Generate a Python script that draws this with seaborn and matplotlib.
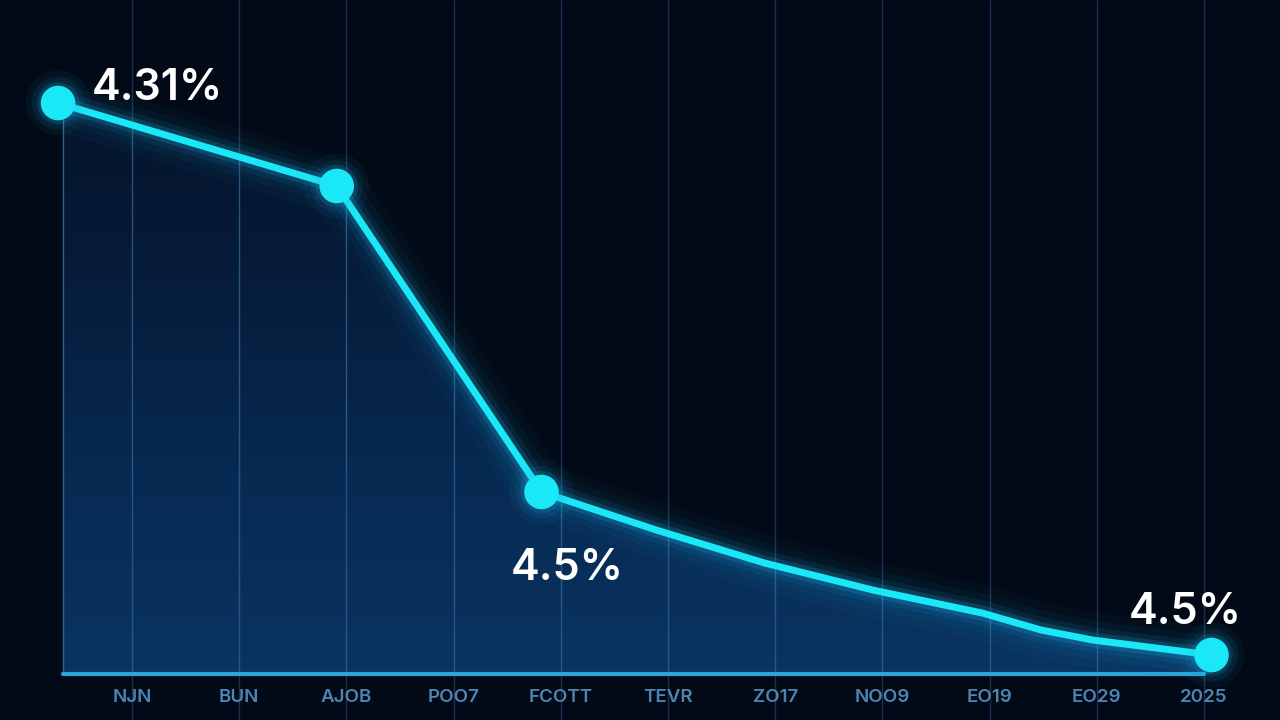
import numpy as np
import pandas as pd
import seaborn as sns
import matplotlib.pyplot as plt
from matplotlib.colors import LinearSegmentedColormap

# x position in tick units (0 = first tick), value = height of the line
x_pos = [-0.69, 1.91, 3.82, 4.89, 5.90, 6.91, 7.93, 8.48, 8.96, 10.07]
rate = [5.71, 4.88, 1.82, 1.44, 1.11, 0.84, 0.61, 0.44, 0.34, 0.19]
marker_idx = [0, 1, 2, 9]
tick_labels = ["NJN", "BUN", "AJOB", "POO7", "FCOTT", "TEVR",
               "ZO17", "NOO9", "EO19", "EO29", "2025"]
point_labels = ["4.31%", "4.5%", "4.5%"]
label_idx = [0, 2, 9]

bg = "#030a17"
cyan = "#1be8f6"

sns.set_theme(style="dark")
plt.rcParams['font.family'] = ['Inter', 'DejaVu Sans']

df = pd.DataFrame({"x": x_pos, "rate": rate})

fig = plt.figure(figsize=(12.8, 7.2), dpi=100, facecolor=bg)
ax = fig.add_axes([0, 0, 1, 1])
ax.set_facecolor(bg)
# pixel mapping: x px = 132 + 107.2*i ; y px = 674 - 100*v
ax.set_xlim(-132 / 107.2, (1280 - 132) / 107.2)
ax.set_ylim(-0.46, 6.74)

# gradient fill below the line
xs = np.array(x_pos)
ys = np.array(rate)
poly = ax.fill_between(xs, ys, 0, color="none", lw=0)
grad = LinearSegmentedColormap.from_list("g", ["#0a3461", "#072a52", "#061c3a", "#051227"])
img = ax.imshow(np.linspace(0, 1, 256).reshape(-1, 1), cmap=grad, aspect="auto",
                extent=[xs[0] + 0.05, xs[-1], 0, 6.0], origin="lower", zorder=1)
img.set_clip_path(poly.get_paths()[0], transform=ax.transData)

# vertical grid lines
for i in range(len(tick_labels)):
    ax.axvline(i, color="#1b3152", lw=1, zorder=0.5)
    top = np.interp(i, xs, ys)
    ax.plot([i, i], [0, top], color="#2f6390", lw=1, alpha=0.8, zorder=2)
ax.plot([xs[0] + 0.05, xs[0] + 0.05], [0, ys[0]], color="#2f6390", lw=1, zorder=2)

# baseline
ax.plot([xs[0] + 0.05, 10.0], [0, 0], color="#2aa6d8", lw=3, zorder=3)

# glow layers
for lw, a in [(40, 0.03), (28, 0.05), (18, 0.09), (11, 0.18)]:
    sns.lineplot(data=df, x="x", y="rate", ax=ax, color="#1bb8f0", lw=lw,
                 alpha=a, sort=False, zorder=4, solid_capstyle="round")
sns.lineplot(data=df, x="x", y="rate", ax=ax, color=cyan, lw=5,
             sort=False, zorder=5, solid_joinstyle="round")
mk = df.iloc[marker_idx]
for s, a in [(2200, 0.05), (1400, 0.08), (950, 0.14)]:
    sns.scatterplot(data=mk, x="x", y="rate", ax=ax, s=s, color="#1bb8f0",
                    alpha=a, edgecolor="none", zorder=5)
sns.scatterplot(data=mk, x="x", y="rate", ax=ax, s=620, color=cyan,
                edgecolor="none", zorder=6)

# value labels
offsets = [(0.31, 0.15), (-0.29, -0.76), (-0.77, 0.42)]
for lab, k, (dx, dy) in zip(point_labels, label_idx, offsets):
    ax.text(x_pos[k] + dx, rate[k] + dy, lab, color="white", fontsize=31,
            fontweight="semibold", ha="left", va="center", zorder=7)

# tick labels
for i, lab in enumerate(tick_labels):
    ax.text(i, -0.23, lab, color="#4d84b2", fontsize=13.5, ha="center",
            va="center", fontweight="semibold", zorder=7)

ax.set_xlabel("")
ax.set_ylabel("")
ax.set_xticks([])
ax.set_yticks([])
for sp in ax.spines.values():
    sp.set_visible(False)

fig.savefig("out.png", dpi=100, facecolor=bg)
